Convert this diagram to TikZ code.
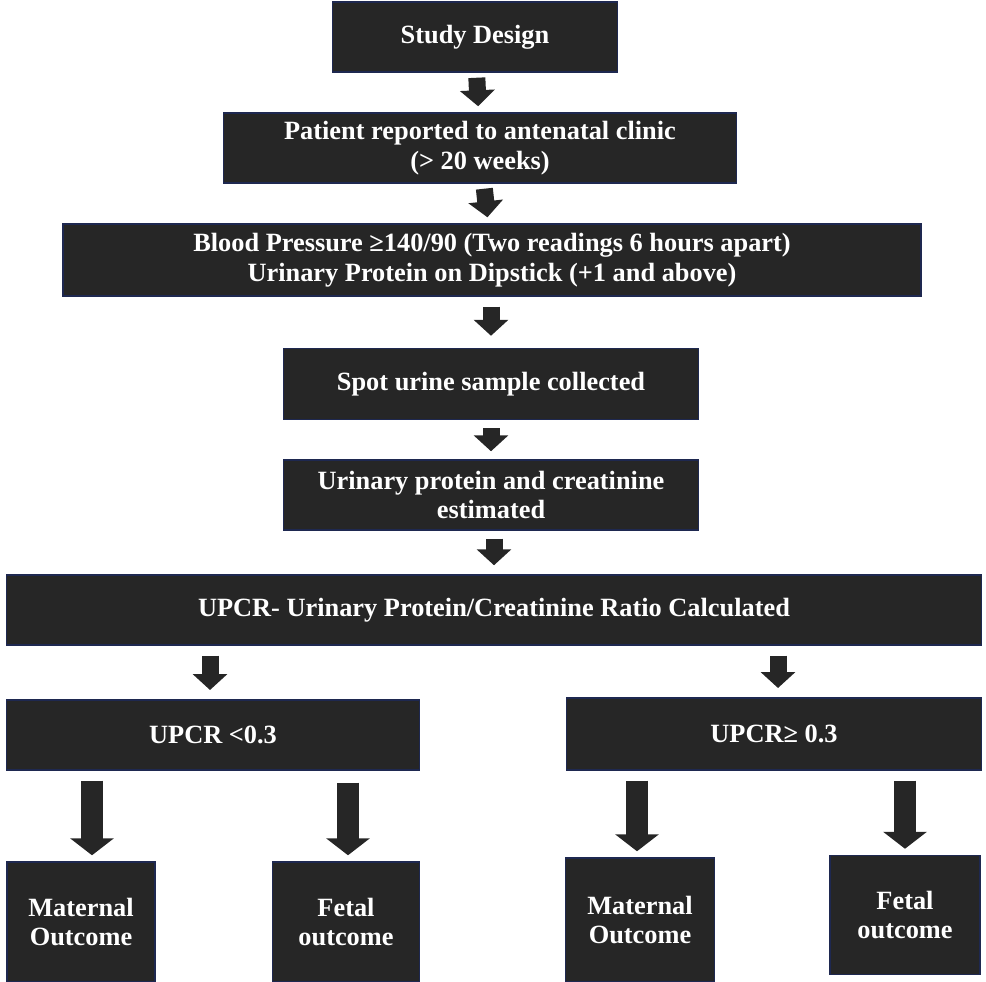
\documentclass[tikz,border=0pt]{standalone}
\usepackage{fontspec}
\setmainfont{Liberation Serif}
\usetikzlibrary{arrows.meta}
\definecolor{boxdark}{RGB}{38,38,38}
\definecolor{boxedge}{RGB}{30,40,80}
\tikzset{
  stagebox/.style={draw=boxedge,line width=0.3mm,fill=boxdark,text=white,font=\bfseries\fontsize{15}{17}\selectfont,align=center,inner sep=0pt},
  smallarrow/.style={draw=boxdark,line width=0.34cm,-{Triangle[width=0.68cm,length=0.32cm]}},
  bigarrow/.style={draw=boxdark,line width=0.44cm,-{Triangle[width=0.86cm,length=0.34cm]}}
}
\begin{document}
\begin{tikzpicture}[x=0.02cm,y=-0.02cm]
  \useasboundingbox (0,0) rectangle (986,982);
  \node[stagebox,minimum width=5.7cm,minimum height=1.4cm] (design) at (475,37) {Study Design};
  \node[stagebox,minimum width=10.26cm,minimum height=1.4cm] (clinic) at (480,148) {Patient reported to antenatal clinic\\(> 20 weeks)};
  \node[stagebox,minimum width=17.16cm,minimum height=1.44cm] (pressure) at (492,260) {Blood Pressure ≥140/90 (Two readings 6 hours apart)\\Urinary Protein on Dipstick (+1 and above)};
  \node[stagebox,minimum width=8.3cm,minimum height=1.42cm] (spot) at (491,384) {Spot urine sample collected};
  \node[stagebox,minimum width=8.3cm,minimum height=1.4cm] (estimate) at (491,495) {Urinary protein and creatinine\\estimated};
  \node[stagebox,minimum width=19.5cm,minimum height=1.4cm] (ratio) at (494,610) {UPCR- Urinary Protein/Creatinine Ratio Calculated};
  \node[stagebox,minimum width=8.26cm,minimum height=1.4cm] (low) at (213,735) {UPCR <0.3};
  \node[stagebox,minimum width=8.3cm,minimum height=1.44cm] (high) at (774,734) {UPCR≥ 0.3};
  \node[stagebox,minimum width=2.96cm,minimum height=2.4cm] (matlow) at (81,922) {Maternal\\Outcome};
  \node[stagebox,minimum width=2.94cm,minimum height=2.4cm] (fetlow) at (346,922) {Fetal\\outcome};
  \node[stagebox,minimum width=2.98cm,minimum height=2.48cm] (mathigh) at (640,920) {Maternal\\Outcome};
  \node[stagebox,minimum width=3.0cm,minimum height=2.38cm] (fethigh) at (905,915) {Fetal\\outcome};

  % arrows down the column
  \draw[smallarrow,shorten <=0.1cm,shorten >=0.12cm] (design) -- (clinic);
  \draw[smallarrow,shorten <=0.1cm,shorten >=0.12cm] (clinic) -- (pressure);
  \draw[smallarrow,shorten <=0.2cm,shorten >=0.24cm] (pressure.south -| spot.north) -- (spot);
  \draw[smallarrow,shorten <=0.16cm,shorten >=0.16cm] (spot) -- (estimate);
  \draw[smallarrow,shorten <=0.16cm,shorten >=0.18cm] (estimate.south -| ratio.north) -- (ratio);

  % split
  \coordinate (lowtop) at (210,700);
  \coordinate (hightop) at (778,698);
  \draw[smallarrow,shorten <=0.2cm,shorten >=0.2cm] (ratio.south -| lowtop) -- (lowtop);
  \draw[smallarrow,shorten <=0.2cm,shorten >=0.2cm] (ratio.south -| hightop) -- (hightop);

  % outcomes
  \draw[bigarrow,shorten <=0.2cm,shorten >=0.12cm] (low.south -| 92,0) -- (matlow.north -| 92,0);
  \draw[bigarrow,shorten <=0.24cm,shorten >=0.12cm] (low.south -| 348,0) -- (fetlow.north -| 348,0);
  \draw[bigarrow,shorten <=0.2cm,shorten >=0.12cm] (high.south -| 637,0) -- (mathigh.north -| 637,0);
  \draw[bigarrow,shorten <=0.2cm,shorten >=0.12cm] (high.south -| 905,0) -- (fethigh.north);
\end{tikzpicture}
\end{document}
